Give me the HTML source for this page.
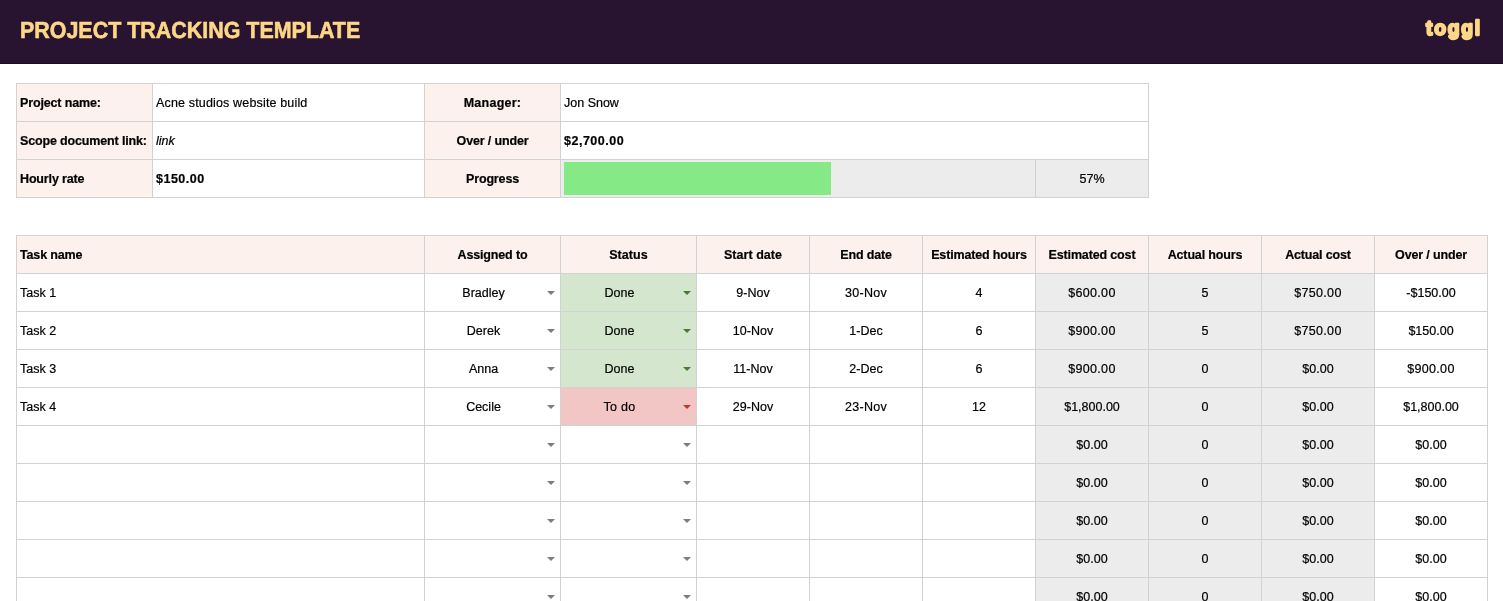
<!DOCTYPE html>
<html lang="en">
<head>
<meta charset="utf-8">
<title>Project Tracking Template</title>
<style>
*{box-sizing:border-box;margin:0;padding:0}
html,body{width:1503px;height:601px;overflow:hidden;background:#fff}
body{position:relative;font-family:"Liberation Sans",sans-serif;font-size:12.5px;color:#000;line-height:39px;-webkit-text-stroke:.2px #000}
.hdr{position:absolute;left:0;top:0;width:1503px;height:64px;background:#281430;border-bottom:1px solid #1e0a28}
.ttl{position:absolute;left:20px;top:14px;height:32px;line-height:32px;font-size:23.25px;font-weight:bold;color:#fdd785;white-space:nowrap;-webkit-text-stroke:.6px #fdd785;transform:scaleX(.922);transform-origin:0 0;text-rendering:geometricPrecision}
.logo{position:absolute;left:1413px;top:0}
.grid{position:absolute;display:grid;gap:1px;padding:1px;background:#d2d2d2}
.info{left:16px;top:83px;grid-template-columns:135px 271px 135px 474px 112px;grid-auto-rows:37px}
.task{left:16px;top:235px;grid-template-columns:407px 135px 135px 112px 112px 112px 112px 112px 112px 112px;grid-auto-rows:37px}
.c{background:#fff;white-space:nowrap;overflow:hidden;position:relative;text-align:center}
.l{text-align:left;padding-left:3px}
.p{background:#fdf1ed}
.g{background:#ececec}
.b{font-weight:bold;letter-spacing:-.15px}
.n{letter-spacing:.5px}
.w{letter-spacing:.3px}
.r{letter-spacing:.16px}
.m{letter-spacing:.25px}
.sd{letter-spacing:.05px}
.i{font-style:italic}
.s2{grid-column:span 2}
.d{background:#d4e7ce}
.t{background:#f3c6c6}
.dd{padding-right:18px}
.ar{position:absolute;right:5px;top:17px;width:0;height:0;border-left:4px solid transparent;border-right:4px solid transparent;border-top:4px solid #7d7d7d}
.d .ar{border-top-color:#467c33}
.t .ar{border-top-color:#c9332b}
.bar{position:absolute;left:3px;top:2px;width:267px;height:33px;background:#85e985}
</style>
</head>
<body>
<div class="hdr"><div class="ttl">PROJECT TRACKING TEMPLATE</div><svg class="logo" width="90" height="50" viewBox="0 0 90 50"><text transform="translate(13.1,35.2) scale(.92,1)" x="0" y="0" font-family="Liberation Sans, sans-serif" font-weight="bold" font-size="21" textLength="58.8" fill="#fdd785" stroke="#fdd785" stroke-width="2.3" stroke-linejoin="round" stroke-linecap="round">toggl</text></svg></div>
<div class="grid info">
<div class="c l p b">Project name:</div><div class="c l r">Acne studios website build</div><div class="c p b m">Manager:</div><div class="c l s2">Jon Snow</div>
<div class="c l p b">Scope document link:</div><div class="c l i">link</div><div class="c p b">Over / under</div><div class="c l b n s2">$2,700.00</div>
<div class="c l p b">Hourly rate</div><div class="c l b n">$150.00</div><div class="c p b">Progress</div><div class="c g"><div class="bar"></div></div><div class="c g">57%</div>
</div>
<div class="grid task">
<div class="c p b l">Task name</div>
<div class="c p b">Assigned to</div>
<div class="c p b sd">Status</div>
<div class="c p b sd">Start date</div>
<div class="c p b">End date</div>
<div class="c p b">Estimated hours</div>
<div class="c p b">Estimated cost</div>
<div class="c p b">Actual hours</div>
<div class="c p b">Actual cost</div>
<div class="c p b">Over / under</div>
<div class="c l">Task 1</div>
<div class="c dd">Bradley<span class="ar"></span></div>
<div class="c dd d">Done<span class="ar"></span></div>
<div class="c">9-Nov</div><div class="c w">30-Nov</div><div class="c">4</div>
<div class="c g w">$600.00</div><div class="c g">5</div><div class="c g w">$750.00</div><div class="c">-$150.00</div>
<div class="c l">Task 2</div>
<div class="c dd">Derek<span class="ar"></span></div>
<div class="c dd d">Done<span class="ar"></span></div>
<div class="c">10-Nov</div><div class="c">1-Dec</div><div class="c">6</div>
<div class="c g w">$900.00</div><div class="c g">5</div><div class="c g w">$750.00</div><div class="c">$150.00</div>
<div class="c l">Task 3</div>
<div class="c dd">Anna<span class="ar"></span></div>
<div class="c dd d">Done<span class="ar"></span></div>
<div class="c">11-Nov</div><div class="c">2-Dec</div><div class="c">6</div>
<div class="c g w">$900.00</div><div class="c g">0</div><div class="c g">$0.00</div><div class="c w">$900.00</div>
<div class="c l">Task 4</div>
<div class="c dd">Cecile<span class="ar"></span></div>
<div class="c dd t w">To do<span class="ar"></span></div>
<div class="c">29-Nov</div><div class="c w">23-Nov</div><div class="c">12</div>
<div class="c g">$1,800.00</div><div class="c g">0</div><div class="c g">$0.00</div><div class="c">$1,800.00</div>
<div class="c l"></div>
<div class="c dd"><span class="ar"></span></div>
<div class="c dd"><span class="ar"></span></div>
<div class="c"></div><div class="c"></div><div class="c"></div>
<div class="c g">$0.00</div><div class="c g">0</div><div class="c g">$0.00</div><div class="c">$0.00</div>
<div class="c l"></div>
<div class="c dd"><span class="ar"></span></div>
<div class="c dd"><span class="ar"></span></div>
<div class="c"></div><div class="c"></div><div class="c"></div>
<div class="c g">$0.00</div><div class="c g">0</div><div class="c g">$0.00</div><div class="c">$0.00</div>
<div class="c l"></div>
<div class="c dd"><span class="ar"></span></div>
<div class="c dd"><span class="ar"></span></div>
<div class="c"></div><div class="c"></div><div class="c"></div>
<div class="c g">$0.00</div><div class="c g">0</div><div class="c g">$0.00</div><div class="c">$0.00</div>
<div class="c l"></div>
<div class="c dd"><span class="ar"></span></div>
<div class="c dd"><span class="ar"></span></div>
<div class="c"></div><div class="c"></div><div class="c"></div>
<div class="c g">$0.00</div><div class="c g">0</div><div class="c g">$0.00</div><div class="c">$0.00</div>
<div class="c l"></div>
<div class="c dd"><span class="ar"></span></div>
<div class="c dd"><span class="ar"></span></div>
<div class="c"></div><div class="c"></div><div class="c"></div>
<div class="c g">$0.00</div><div class="c g">0</div><div class="c g">$0.00</div><div class="c">$0.00</div>
</div>
</body>
</html>
